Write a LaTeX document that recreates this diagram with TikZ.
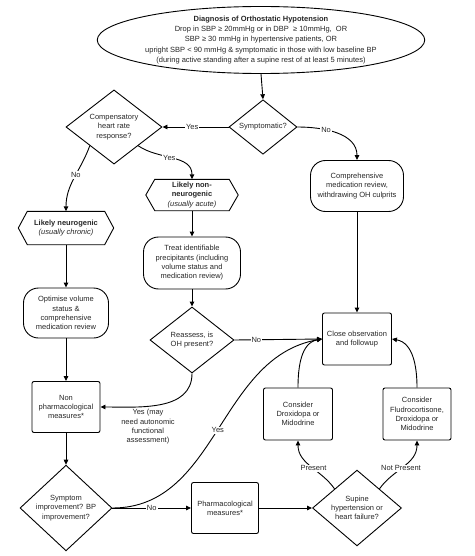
\documentclass[tikz,border=0pt]{standalone}
\usepackage{fontspec}
\setmainfont{Liberation Sans}
\usetikzlibrary{shapes.geometric,arrows.meta}
\tikzset{
 base/.style={font=\fontsize{7.5}{9.3}\selectfont, align=center, text=black!85},
 ell/.style={base, ellipse, draw, line width=0.9pt, minimum width=255pt, minimum height=66pt, inner sep=0pt},
 dia/.style={base, diamond, draw, line width=0.9pt, inner sep=0pt},
 rbox/.style={base, draw, line width=0.9pt, rounded corners=15pt, inner sep=0pt},
 sbox/.style={base, draw, line width=0.9pt, rounded corners=2pt, inner sep=0pt},
 hexa/.style={base, inner sep=0pt},
 hexline/.style={line width=0.9pt},
 lbl/.style={base, fill=white, inner sep=1pt},
 arr/.style={-{Triangle[length=5pt,width=4.5pt]}, line width=0.9pt},
}
\begin{document}
\begin{tikzpicture}[x=1pt,y=-1pt]
\useasboundingbox (0,0) rectangle (474,556);
\node[ell] (e) at (261,40) {\textbf{Diagnosis of Orthostatic Hypotension}\\[0.8pt]
Drop in SBP ≥ 20mmHg or in DBP ~≥ 10mmHg, ~OR\\[0.8pt]
SBP ≥ 30 mmHg in hypertensive patients, OR\\[0.8pt]
upright SBP < 90 mmHg \& symptomatic in those with low baseline BP\\[0.8pt]
(during active standing after a supine rest of at least 5 minutes)};
\node[dia, minimum width=68pt, minimum height=50pt] (sym) at (263,127) {Symptomatic?};
\node[dia, minimum width=96pt, minimum height=66pt] (comp) at (114,127) {Compensatory\\heart rate\\response?};
\node[rbox, minimum width=93pt, minimum height=51pt] (crev) at (357,186) {Comprehensive\\medication review,\\withdrawing OH culprits};
\node[hexa, minimum width=92pt, minimum height=31pt] (nn) at (192,195) {\textbf{Likely non-}\\\textbf{neurogenic}\\\textit{(usually acute)}};
\draw[hexline] (nn.west) -- ([xshift=9pt]nn.north west) -- ([xshift=-9pt]nn.north east) -- (nn.east) -- ([xshift=-9pt]nn.south east) -- ([xshift=9pt]nn.south west) -- cycle;
\node[hexa, minimum width=95pt, minimum height=33pt] (neu) at (66,228) {\textbf{Likely neurogenic}\\\textit{(usually chronic)}};
\draw[hexline] (neu.west) -- ([xshift=9pt]neu.north west) -- ([xshift=-9pt]neu.north east) -- (neu.east) -- ([xshift=-9pt]neu.south east) -- ([xshift=9pt]neu.south west) -- cycle;
\node[rbox, minimum width=97pt, minimum height=52pt] (treat) at (192,263) {Treat identifiable\\precipitants (including\\volume status and\\medication review)};
\node[rbox, minimum width=85pt, minimum height=50pt] (opt) at (66,313) {Optimise volume\\status \&\\comprehensive\\medication review};
\node[dia, minimum width=84pt, minimum height=66pt] (re) at (192,340) {Reassess, is\\OH present?};
\node[sbox, minimum width=69pt, minimum height=52pt] (close) at (357,339) {Close observation\\and followup};
\node[sbox, minimum width=68pt, minimum height=51pt] (np) at (66,407) {Non\\pharmacological\\measures*};
\node[base] (npl) at (148,427) {Yes (may\\need autonomic\\functional\\assessment)};
\node[dia, minimum width=92pt, minimum height=66pt] (si) at (66,508) {Symptom\\improvement? BP\\improvement?};
\node[sbox, minimum width=67pt, minimum height=51pt] (ph) at (225,508) {Pharmacological\\measures*};
\node[dia, minimum width=89pt, minimum height=67pt] (sup) at (357,508) {Supine\\hypertension or\\heart failure?};
\node[sbox, minimum width=69pt, minimum height=52pt] (dx) at (298,414) {Consider\\Droxidopa or\\Midodrine};
\node[sbox, minimum width=68pt, minimum height=52pt] (fl) at (417,414) {Consider\\Fludrocortisone,\\Droxidopa or\\Midodrine};
% connectors
\draw[arr] (e.south) -- (sym.north);
\draw[arr] (sym.west) -- node[lbl, pos=0.55]{Yes} (comp.east);
\draw[arr] (sym.east) to[out=0,in=90] node[lbl,pos=0.35]{No} (crev.north);
\draw[arr] (comp.south east) to[out=-35,in=90] node[lbl,pos=0.45]{Yes} (nn.north);
\draw[arr] (comp.south west) to[out=-110,in=90] node[lbl,pos=0.45]{No} (neu.north);
\draw[arr] (crev.south) -- (close.north);
\draw[arr] (nn.south) -- (treat.north);
\draw[arr] (treat.south) -- (re.north);
\draw[arr] (neu.south) -- (opt.north);
\draw[arr] (opt.south) -- (np.north);
\draw[arr] (np.south) -- (si.north);
\draw[arr] (re.east) -- node[lbl,pos=0.25]{No} (close.west);
\draw[arr] (re.south) to[out=-90,in=0] (np.east);
\draw[arr] (si.east) to[out=0,in=190] node[lbl,pos=0.5]{Yes} (close.west);
\draw[arr] (si.east) -- node[lbl]{No} (ph.west);
\draw[arr] (ph.east) -- (sup.west);
\draw[arr] (dx.north) to[out=90,in=190] (close.west);
\draw[arr] (fl.north) to[out=90,in=-10] (close.east);
\draw[arr] (sup.north west) to[out=125,in=-90] node[lbl,pos=0.45]{Present} (dx.south);
\draw[arr] (sup.north east) to[out=55,in=-90] node[lbl,pos=0.45]{Not Present} (fl.south);
\end{tikzpicture}
\end{document}
